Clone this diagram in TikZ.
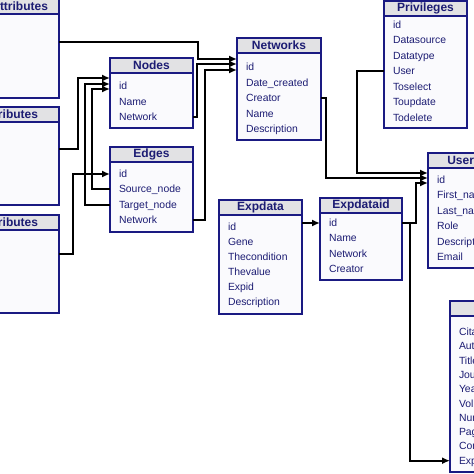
\documentclass[tikz,border=0pt]{standalone}
\usepackage{fontspec}
\setmainfont{Liberation Sans}
\usetikzlibrary{positioning,calc,arrows.meta}
\definecolor{boxnavy}{RGB}{26,26,130}
\definecolor{textnavy}{RGB}{28,28,115}
\definecolor{headgray}{RGB}{226,226,228}
\definecolor{bodyfill}{RGB}{250,250,253}
\tikzset{
  tablebox/.style={draw=boxnavy, line width=2pt, fill=bodyfill, anchor=north west, inner sep=0pt, outer sep=0pt},
  tablehead/.style={draw=boxnavy, line width=2pt, fill=headgray, anchor=north west, inner sep=0pt, outer sep=0pt,
    minimum height=15pt, text=textnavy, font=\fontsize{12}{14}\selectfont\bfseries},
  tablerow/.style={anchor=west, inner xsep=9pt, inner ysep=0pt, outer sep=0pt, text height=8pt, text depth=1pt,
    align=left, text=textnavy, font=\fontsize{10.4}{12}\selectfont},
  link/.style={draw=black, line width=2.2pt, -{Latex[length=8pt,width=7pt]}},
}
% box with header only
\newcommand{\dbbox}[6]{%
  \pgfmathsetmacro\bw{#4-#2}\pgfmathsetmacro\bh{#5-#3}%
  \node[tablebox, minimum width=\bw pt, minimum height=\bh pt] (#1) at (#2,#3) {};
  \node[tablehead, minimum width=\bw pt] (#1-head) at (#1.north west) {#6};
}
% box with header and rows
\newcommand{\dbtable}[9][15.4]{%
  \dbbox{#2}{#3}{#4}{#5}{#6}{#7}%
  \pgfmathsetmacro\tw{#5-#3-18}%
  \foreach \rowtext [count=\k] in {#9}
    \node[tablerow, text width=\tw pt] (#2-\k) at ({#3},{#8+(\k-1)*#1}) {\rowtext};
}
\begin{document}
\begin{tikzpicture}[x=1pt,y=-1pt]
  \useasboundingbox (0,0) rectangle (474,474);
  \clip (0,0) rectangle (474,474);
  \fill[white] (0,0) rectangle (474,474);

  % tables
  \dbbox{attrA}{-11}{-1}{59}{98}{ttributes}
  \dbbox{attrB}{-23}{107}{59}{205}{ributes}
  \dbbox{attrC}{-23}{215}{59}{313}{ributes}
  \dbtable[15.5]{nodes}{110}{58}{193}{128}{Nodes}{86}{id,Name,Network}
  \dbtable[15.3]{edges}{110}{147}{193}{232}{Edges}{174}{id,Source\_node,Target\_node,Network}
  \dbtable[15.5]{networks}{237}{38}{321}{140}{Networks}{67}{id,Date\_created,Creator,Name,Description}
  \dbtable[15.5]{privileges}{384}{1}{467}{128}{Privileges}{24.5}{id,Datasource,Datatype,User,Toselect,Toupdate,Todelete}
  \dbtable{users}{428}{153}{500}{268}{Users}{180}{id,First\_name,Last\_name,Role,Description,Email}
  \dbtable[15]{expdata}{219}{200}{302}{314}{Expdata}{227}{id,Gene,Thecondition,Thevalue,Expid,Description}
  \dbtable[15.3]{expdataid}{320}{198}{402}{280}{Expdataid}{223}{id,Name,Network,Creator}
  \dbtable[14.3]{refs}{450}{301}{530}{472}{}{332}{Cita,Aut,Title,Jou,Yea,Vol,Num,Pag,Con,Exp}

  % links into Networks
  \draw[link] ($(attrA.north east)+(0,43)$) -- ++(139,0) |- ([yshift=8pt]networks-1.west);
  \draw[link] (nodes-3.east) -- ++(4,0) |- ([yshift=3pt]networks-1.west);
  \draw[link] (edges-4.east) -- ++(12,0) |- ([yshift=-3pt]networks-1.west);
  % links into Nodes and Edges
  \draw[link] ($(attrB.north east)+(0,42)$) -- ++(19,0) |- ([yshift=8pt]nodes-1.west);
  \draw[link] (edges-3.west) -- ++(-25,0) |- ([yshift=2pt]nodes-1.west);
  \draw[link] (edges-2.west) -- ++(-18,0) |- ([yshift=-3pt]nodes-1.west);
  \draw[link] ($(attrC.north east)+(0,39)$) -- ++(14,0) |- (edges-1.west);
  % links into Users
  \draw[link] (privileges-4.west) -- ++(-27,0) |- ([yshift=7pt]users-1.west);
  \draw[link] (networks-3.east) -- ++(5,0) |- ([yshift=2pt]users-1.west);
  \draw[link] (expdataid-1.east) -- ++(14,0) |- ([yshift=-3pt]users-1.west);
  % expression data
  \draw[link] (expdata-1.east |- expdataid-1.west) -- (expdataid-1.west);
  \draw[link] (expdataid-1.east) -- ++(8,0) |- (refs-10.west);
\end{tikzpicture}
\end{document}
